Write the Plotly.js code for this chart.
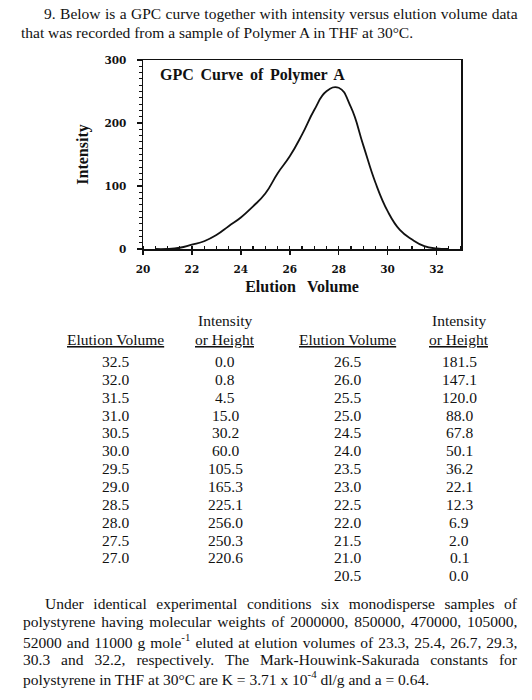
<!DOCTYPE html>
<html>
<head>
<meta charset="utf-8">
<script src="https://cdn.plot.ly/plotly-3.0.1.min.js"></script>
<style>
  html, body { margin: 0; padding: 0; background: #ffffff; }
  #chart { width: 532px; height: 700px; }
</style>
</head>
<body>
<div id="chart"></div>
<script>
const elutionVolume = [32.5, 32.0, 31.5, 31.0, 30.5, 30.0, 29.5, 29.0, 28.5, 28.0, 27.5, 27.0,
                       26.5, 26.0, 25.5, 25.0, 24.5, 24.0, 23.5, 23.0, 22.5, 22.0, 21.5, 21.0, 20.5];
const intensity = [0.0, 0.8, 4.5, 15.0, 30.2, 60.0, 105.5, 165.3, 225.1, 256.0, 250.3, 220.6,
                   181.5, 147.1, 120.0, 88.0, 67.8, 50.1, 36.2, 22.1, 12.3, 6.9, 2.0, 0.1, 0.0];
const leftRows = 12; // rows in the first pair of table columns

const chartTitle = "GPC Curve of Polymer A";
const xTitle = "Elution Volume";
const yTitle = "Intensity";
const tableHeaderVol = "Elution Volume";
const tableHeaderInt1 = "Intensity";
const tableHeaderInt2 = "or Height";

const introLines = [
  "9.  Below is a GPC curve together with intensity versus elution volume data",
  "that was recorded from a sample of Polymer A in THF at 30°C."
];
const paragraphLines = [
  "Under identical experimental conditions six monodisperse samples of",
  "polystyrene having molecular weights of 2000000, 850000, 470000, 105000,",
  "52000 and 11000 g mole<sup>-1</sup> eluted at elution volumes of 23.3, 25.4, 26.7, 29.3,",
  "30.3 and 32.2, respectively.  The Mark-Houwink-Sakurada constants for",
  "polystyrene in THF at 30°C are K = 3.71 x 10<sup>-4</sup> dl/g and a = 0.64."
];

// ---- Layout helpers (page pixels -> paper coords) ----
const L = 143, R = 461, T = 60, B = 249;
const W = R - L, H = B - T;
const px = x => (x - L) / W;
const py = y => (B - y) / H;

const serif = "Liberation Serif, Times New Roman, serif";
const ink = "#111111";
const bodySize = 15.5;
const bodyFont = { family: serif, size: bodySize, color: ink };

// text measuring for justified lines
const ctx = document.createElement("canvas").getContext("2d");
function measure(html, size, bold) {
  const parts = html.replace(/\s+/g, " ").split(/(<sup>.*?<\/sup>)/);
  let w = 0, spaces = 0;
  parts.forEach(p => {
    if (!p) return;
    const isSup = p.startsWith("<sup>");
    const t = p.replace(/<[^>]+>/g, "");
    const s = isSup ? size * 0.7 : size;
    ctx.font = (bold ? "bold " : "") + s + 'px "Liberation Serif"';
    w += ctx.measureText(t).width;
    if (!isSup) spaces += (t.match(/ /g) || []).length;
  });
  return { w, spaces };
}
function justify(html, target, size, bold) {
  const clean = html.replace(/\s+/g, " ");
  const m = measure(clean, size, bold);
  if (!m.spaces) return clean;
  const extra = ((target - m.w) / m.spaces).toFixed(2);
  return '<span style="word-spacing:' + extra + 'px">' + clean + '</span>';
}

function note(x, y, text, xanchor, font) {
  return { xref: "paper", yref: "paper", x: px(x), y: py(y), text: text,
           xanchor: xanchor, yanchor: "middle", showarrow: false,
           font: font || bodyFont, borderpad: 0 };
}

const annotations = [];
const RIGHT = 516;
annotations.push(note(42.5, 13.6, justify(introLines[0], RIGHT - 42.5, bodySize), "left"));
annotations.push(note(19.7, 32.3, introLines[1], "left"));

// table
const colX = [115, 225, 347, 459];
const u = s => '<span style="text-decoration:underline">' + s + '</span>';
annotations.push(note(colX[1], 320.5, tableHeaderInt1, "center"));
annotations.push(note(colX[3], 320.5, tableHeaderInt1, "center"));
annotations.push(note(colX[0], 339, u(tableHeaderVol), "center"));
annotations.push(note(colX[1], 339, u(tableHeaderInt2), "center"));
annotations.push(note(colX[2], 339, u(tableHeaderVol), "center"));
annotations.push(note(colX[3], 339, u(tableHeaderInt2), "center"));
const rowY0 = 361.5, rowDy = 17.85;
elutionVolume.forEach((v, i) => {
  const side = i < leftRows ? 0 : 1;
  const r = side === 0 ? i : i - leftRows;
  const y = rowY0 + r * rowDy;
  annotations.push(note(colX[side * 2], y, v.toFixed(1), "center"));
  annotations.push(note(colX[side * 2 + 1], y, intensity[i].toFixed(1), "center"));
});

// paragraph (justified except the last line)
const parY0 = 603.3, parDy = 18.6;
paragraphLines.forEach((t, i) => {
  const x0 = i === 0 ? 44 : 21.7;
  const last = i === paragraphLines.length - 1;
  const txt = last ? t : justify(t, RIGHT - x0, bodySize);
  annotations.push(note(x0, parY0 + i * parDy, txt, "left"));
});

// ---- Curve: ascending order of elution volume ----
const order = elutionVolume.map((v, i) => i).sort((a, b) => elutionVolume[a] - elutionVolume[b]);
const curveX = order.map(i => elutionVolume[i]);
const curveY = order.map(i => intensity[i]);

const trace = {
  type: "scatter", mode: "lines",
  x: curveX, y: curveY,
  line: { color: ink, width: 1.8, shape: "spline", smoothing: 1.3 },
  hoverinfo: "skip"
};

const tickFont = { family: "DejaVu Serif", size: 10.5, color: ink, weight: "bold" };
const axisTitleFont = { family: serif, size: 16, color: ink, weight: "bold" };

const layout = {
  width: 532, height: 700,
  margin: { l: L, r: 532 - R, t: T, b: 700 - B, pad: 0 },
  paper_bgcolor: "#ffffff", plot_bgcolor: "#ffffff",
  showlegend: false,
  title: { text: justify(chartTitle, 186, 16, true), xref: "paper", yref: "paper", x: px(160), xanchor: "left",
           y: py(74), yanchor: "middle",
           font: { family: serif, size: 16, color: ink, weight: "bold" } },
  xaxis: {
    range: [20, 33], tick0: 20, dtick: 2, ticks: "outside", ticklen: 4, tickwidth: 1.5,
    tickcolor: ink, showline: true, linewidth: 1.5, linecolor: ink, mirror: true,
    showgrid: false, zeroline: false, tickfont: tickFont, ticklabelstandoff: 6,
    minor: { tick0: 20, dtick: 0.5, ticks: "inside", ticklen: 3, tickwidth: 1.2, tickcolor: ink, showgrid: false },
    title: { text: justify(xTitle, 114, 16, true), font: axisTitleFont, standoff: 6 },
    fixedrange: true
  },
  yaxis: {
    range: [0, 300], tick0: 0, dtick: 100, ticks: "outside", ticklen: 5, tickwidth: 1.5,
    tickcolor: ink, showline: true, linewidth: 1.5, linecolor: ink, mirror: true,
    showgrid: false, zeroline: false, tickfont: tickFont, ticklabelstandoff: 8,
    minor: { tick0: 0, dtick: 10, ticks: "outside", ticklen: 3, tickwidth: 1, tickcolor: ink, showgrid: false },
    title: { text: yTitle, font: axisTitleFont, standoff: 12 },
    fixedrange: true
  },
  annotations: annotations
};

Plotly.newPlot("chart", [trace], layout, { displayModeBar: false, staticPlot: true });
</script>
</body>
</html>
